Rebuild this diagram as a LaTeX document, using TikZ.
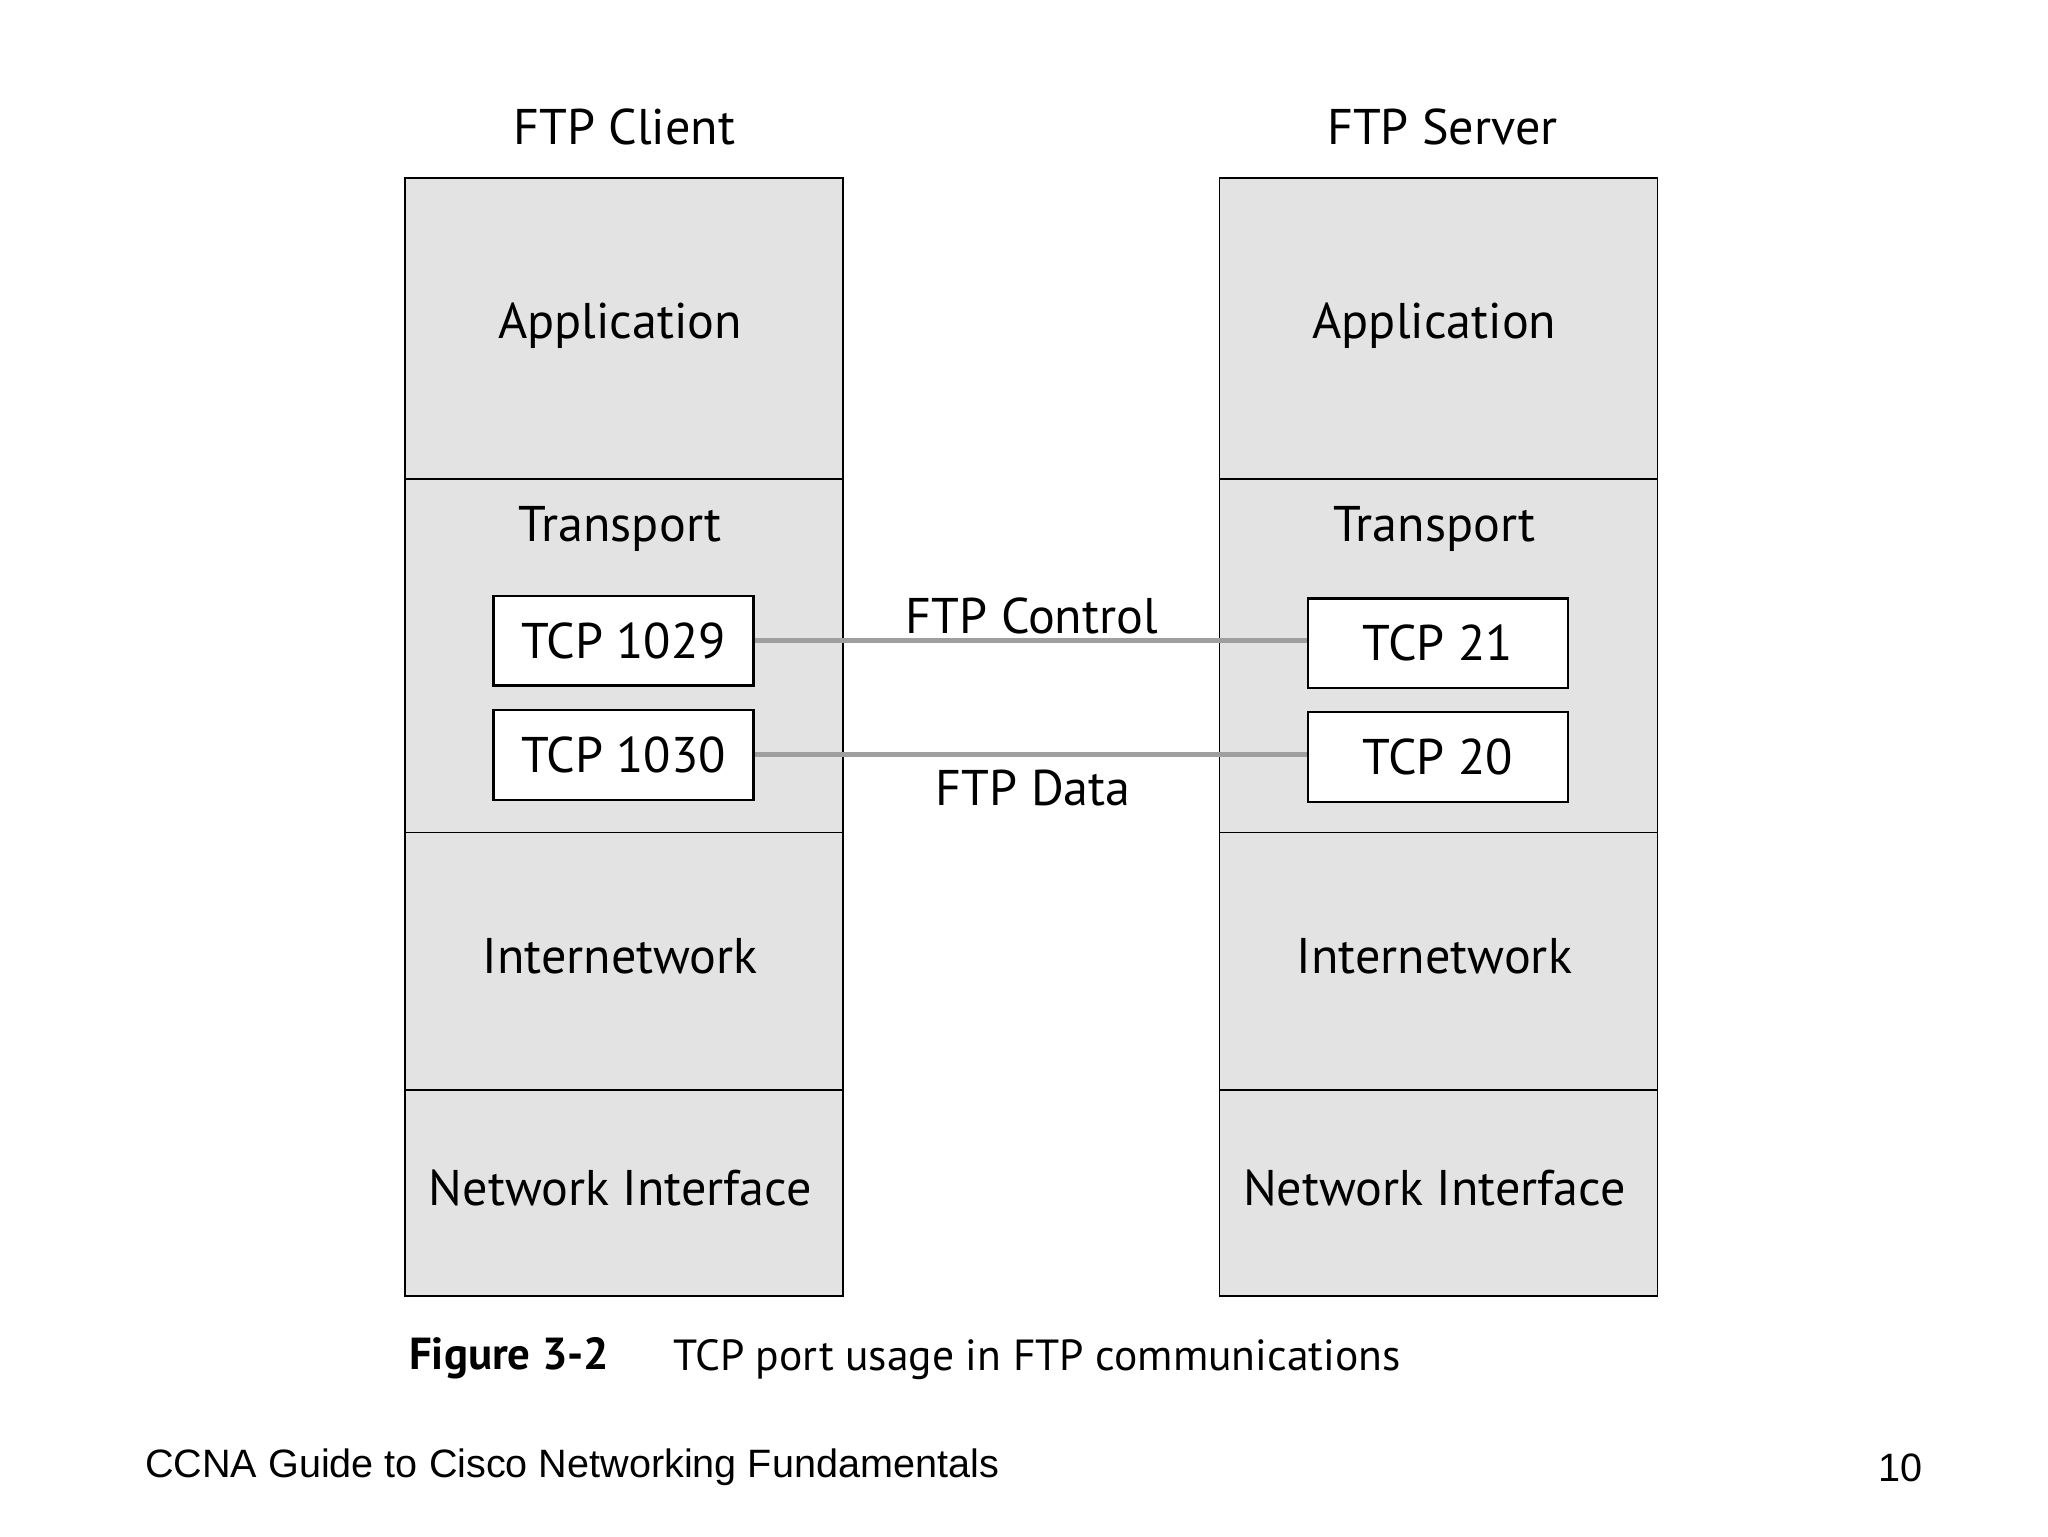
\documentclass[tikz,border=0pt]{standalone}
\usepackage{fontspec}
\setmainfont{PT Sans}
\newfontfamily\footfont{Liberation Sans}
\begin{document}
\begin{tikzpicture}[x=0.5pt,y=-0.5pt,
  layer/.style={draw=black,fill=gray!22,line width=0.6pt},
  port/.style={draw=black,fill=white,line width=0.8pt,minimum width=98.5pt,minimum height=34pt,inner sep=0pt,font=\fontsize{19}{22}\selectfont},
  lbl/.style={font=\fontsize{19}{22}\selectfont},
  conn/.style={draw=gray!75,line width=2pt}]
\useasboundingbox (0,0) rectangle (1552,1164);
\foreach \x/\n in {307/c,924/s}{
  \draw[layer] (\x,135) rectangle ++(332,228);
  \draw[layer] (\x,363) rectangle ++(332,268);
  \draw[layer] (\x,631) rectangle ++(332,195);
  \draw[layer] (\x,826) rectangle ++(332,156);
}
\node[lbl] (hc) at (473,96) {FTP Client};
\node[lbl] (hs) at (1093,96) {FTP Server};
\node[lbl] (ac) at (470,247) {Application};
\node[lbl] (as) at (1087,247) {Application};
\node[lbl] (tc) at (470,401) {Transport};
\node[lbl] (ts) at (1087,401) {Transport};
\node[lbl] (ic) at (470,725) {Internetwork};
\node[lbl] (is) at (1087,725) {Internetwork};
\node[lbl] (nc) at (470,900) {Network Interface};
\node[lbl] (ns) at (1087,900) {Network Interface};
\node[port] (p1029) at (472.5,485.5) {TCP 1029};
\node[port] (p1030) at (472.5,572) {TCP 1030};
\node[port] (p21) at (1089.5,487.5) {TCP 21};
\node[port] (p20) at (1089.5,573.5) {TCP 20};
\draw[conn] (p1029.east) -- (p21.west |- p1029.east);
\draw[conn] (p1030.east) -- (p20.west |- p1030.east);
\node[lbl] (fc) at (782,467) {FTP Control};
\node[lbl] (fd) at (783,597) {FTP Data};
\node[anchor=west,font=\fontsize{17}{20}\selectfont\bfseries] (fig) at (303,1029) {Figure 3-2};
\node[anchor=west,font=\fontsize{16.5}{19}\selectfont] (cap) at (503,1030) {TCP port usage in FTP communications};
\node[anchor=west,font=\footfont\fontsize{15}{18}\selectfont] (ft) at (103,1112) {CCNA Guide to Cisco Networking Fundamentals};
\node[anchor=east,font=\footfont\fontsize{15}{18}\selectfont] (pg) at (1464,1112) {10};
\end{tikzpicture}
\end{document}
